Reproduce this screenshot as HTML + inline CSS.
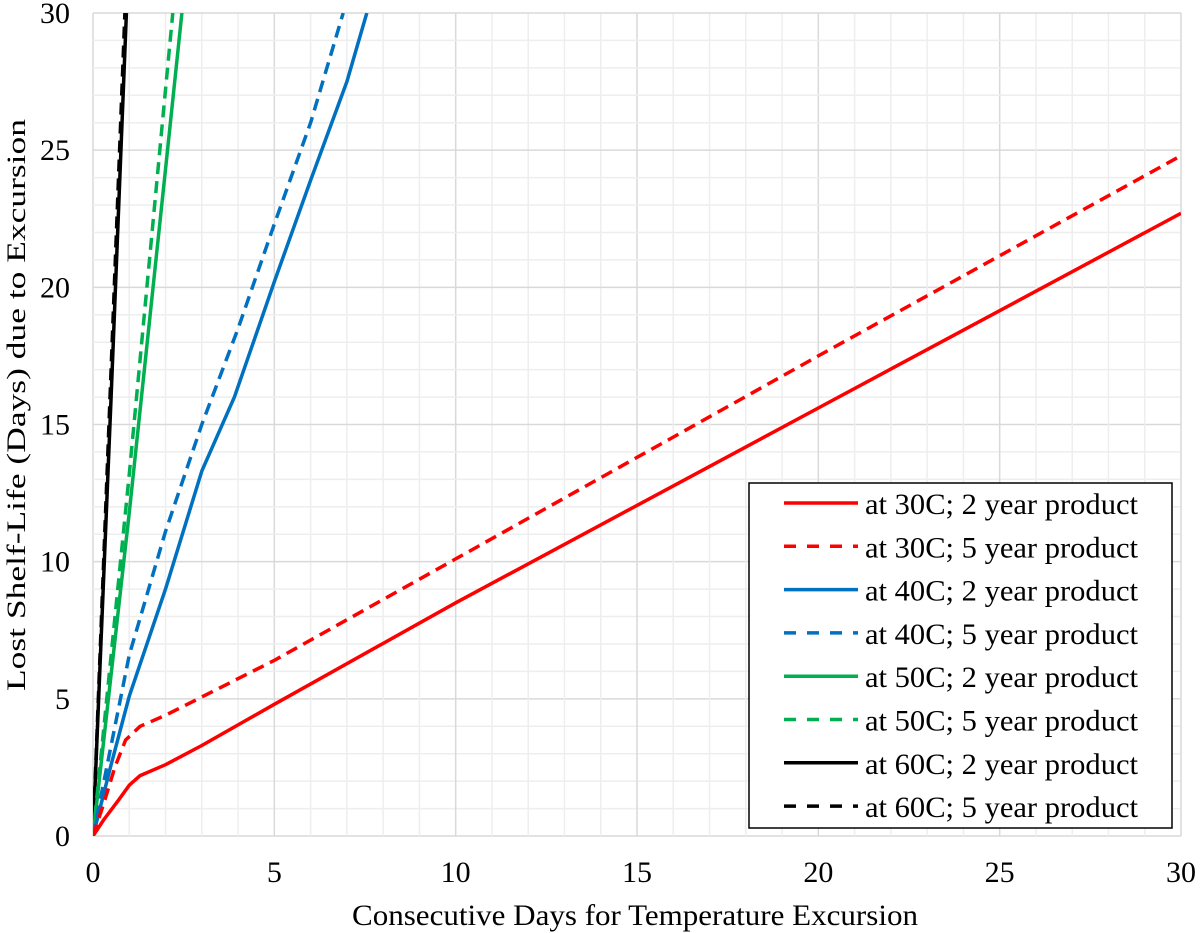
<!DOCTYPE html>
<html><head><meta charset="utf-8"><style>
html,body{margin:0;padding:0;background:#fff;}
svg{display:block;font-family:"Liberation Serif",serif;}
</style></head><body>
<svg id="chart" width="1200" height="933"></svg>
<script>
const xTicks=[0,5,10,15,20,25,30];
const yTicks=[0,5,10,15,20,25,30];
const seriesNames=["at 30C; 2 year product","at 30C; 5 year product","at 40C; 2 year product","at 40C; 5 year product","at 50C; 2 year product","at 50C; 5 year product","at 60C; 2 year product","at 60C; 5 year product"];
const s30a_x=[0,0.3,0.7,1,1.3,2,3,5,10,20,30];
const s30a_y=[0,0.6,1.3,1.85,2.2,2.6,3.3,4.8,8.5,15.6,22.7];
const s30b_x=[0,0.3,0.6,0.9,1.3,2,5,10,20,30];
const s30b_y=[0,1.2,2.5,3.5,4.0,4.4,6.4,10.1,17.5,24.8];
const s40a_x=[0,0.5,1,2,3,3.9,5,6,7,7.55];
const s40a_y=[0,2.6,5.1,9.0,13.3,16.0,20.2,23.9,27.5,30];
const s40b_x=[0,0.5,1,2,3,4,5,6,6.9];
const s40b_y=[0,3.3,6.6,11.1,15.0,18.5,22.3,26.0,30];
const s50a_x=[0,1,2,2.45];
const s50a_y=[0,11.8,24.3,30];
const s50b_x=[0,1,2,2.2];
const s50b_y=[0,13.2,27.2,30];
const s60a_x=[0,0.5,0.92];
const s60a_y=[0,16,30];
const s60b_x=[0,0.5,0.88];
const s60b_y=[0,17,30];
const colors=["#ff0000","#ff0000","#0070c0","#0070c0","#00b050","#00b050","#000000","#000000"];
const dashed=[false,true,false,true,false,true,false,true];
const L=93,R=1181,T=13,B=836;
const X=v=>L+(v/30)*(R-L);
const Y=v=>B-(v/30)*(B-T);
const NS="http://www.w3.org/2000/svg";
const svg=document.getElementById("chart");
function mk(tag,attrs,parent){const e=document.createElementNS(NS,tag);for(const k in attrs)e.setAttribute(k,attrs[k]);(parent||svg).appendChild(e);return e;}
const grid=mk("g",{});


for(let i=0;i<=30;i++){
 const major=i%5===0;
 mk("line",{x1:X(i),x2:X(i),y1:T,y2:B,stroke:major?"#d9d9d9":"#eeeeee","stroke-width":1.5},grid);
 mk("line",{x1:L,x2:R,y1:Y(i),y2:Y(i),stroke:major?"#d9d9d9":"#eeeeee","stroke-width":1.5},grid);
}
xTicks.forEach(v=>{const t=mk("text",{x:X(v),y:882,"text-anchor":"middle","font-size":30,fill:"#000"});t.textContent=v;

});
yTicks.forEach(v=>{const t=mk("text",{x:70,y:Y(v)+10,"text-anchor":"end","font-size":30,fill:"#000"});t.textContent=v;

});
const xt=mk("text",{x:635,y:925,"text-anchor":"middle","font-size":30,textLength:566,lengthAdjust:"spacingAndGlyphs"});xt.textContent="Consecutive Days for Temperature Excursion";


const yt=mk("text",{x:0,y:0,"text-anchor":"middle","font-size":26,textLength:572,lengthAdjust:"spacingAndGlyphs",transform:"translate(25,405) rotate(-90)"});yt.textContent="Lost Shelf-Life (Days) due to Excursion";


const clip=mk("clipPath",{id:"pc"});mk("rect",{x:L,y:T,width:R-L,height:B-T},clip);
const allX=[s30a_x,s30b_x,s40a_x,s40b_x,s50a_x,s50b_x,s60a_x,s60b_x];
const allY=[s30a_y,s30b_y,s40a_y,s40b_y,s50a_y,s50b_y,s60a_y,s60b_y];
for(let i=7;i>=0;i--){
 const d=allX[i].map((x,j)=>(j?"L":"M")+X(x).toFixed(1)+","+Y(allY[i][j]).toFixed(1)).join(" ");
 const p=mk("path",{d:d,fill:"none",stroke:colors[i],"stroke-width":3.5,"stroke-linejoin":"round","clip-path":"url(#pc)"});
 if(dashed[i])p.setAttribute("stroke-dasharray","12,7");
 
 
}
const lg=mk("g",{});


mk("rect",{x:749,y:483,width:423,height:345,fill:"#fff",stroke:"#000","stroke-width":1.5},lg);
seriesNames.forEach((n,i)=>{
 const y=503+i*43.3;
 const ln=mk("line",{x1:784,x2:858,y1:y,y2:y,stroke:colors[i],"stroke-width":3.5},lg);
 if(dashed[i])ln.setAttribute("stroke-dasharray","12,11");
 const t=mk("text",{x:865,y:y+11,"font-size":30,textLength:273,lengthAdjust:"spacingAndGlyphs"},lg);t.textContent=n;
 
 
});
</script>
</body></html>
